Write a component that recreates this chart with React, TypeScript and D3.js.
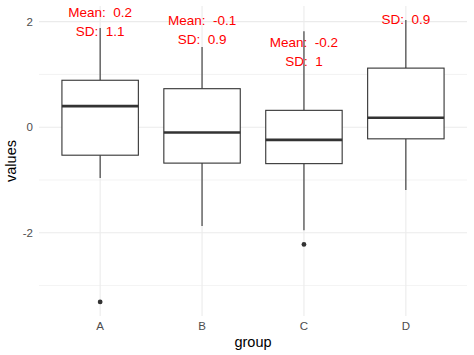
import React from "react";
import * as d3 from "d3";

const groups = ["A", "B", "C", "D"];
const whiskerLow = [-0.96, -1.87, -1.95, -1.19];
const q1 = [-0.53, -0.68, -0.69, -0.22];
const median = [0.4, -0.1, -0.24, 0.18];
const q3 = [0.89, 0.73, 0.32, 1.12];
const whiskerHigh = [1.88, 1.52, 1.82, 2.03];
const outliers: [string, number][] = [["A", -3.31], ["C", -2.22]];
const meanLabels = ["0.2", "-0.1", "-0.2", "0.3"];
const sdLabels = ["1.1", "0.9", "1", "0.9"];
const labelY = [1.81, 1.66, 1.25, 2.04];
const yTicks = [-2, 0, 2];
const yMinor = [-3, -1, 1];

const W = 474, H = 355;
const left = 39, right = 467, top = 6, bottom = 316;
const font = "'Liberation Sans', Arial, sans-serif";

export default function App() {
  const x = d3.scaleBand<string>().domain(groups).range([left, right]).paddingInner(0).paddingOuter(0.1);
  const cx = (g: string) => (x(g) as number) + x.bandwidth() / 2;
  const step = x.step();
  const allVals = [...whiskerLow, ...whiskerHigh, ...outliers.map((o) => o[1])];
  const ext = d3.extent(allVals) as [number, number];
  const pad = (ext[1] - ext[0]) * 0.05;
  const y = d3.scaleLinear().domain([ext[0] - pad, ext[1] + pad]).range([bottom, top]);
  const bw = step * 0.75;
  const grid = "#EBEBEB";
  const dark = "#333333";
  return (
    <svg width={W} height={H} style={{ position: "absolute", left: 0, top: 0, background: "#fff" }} fontFamily={font}>
      <defs>
        <clipPath id="panel">
          <rect x={left} y={top} width={right - left} height={bottom - top} />
        </clipPath>
      </defs>
      {yMinor.map((v) => (
        <line key={"m" + v} x1={left} x2={right} y1={y(v)} y2={y(v)} stroke={grid} strokeWidth={0.6} />
      ))}
      {yTicks.map((v) => (
        <line key={"y" + v} x1={left} x2={right} y1={y(v)} y2={y(v)} stroke={grid} strokeWidth={1.1} />
      ))}
      {groups.map((g) => (
        <line key={"x" + g} x1={cx(g)} x2={cx(g)} y1={top} y2={bottom} stroke={grid} strokeWidth={1.1} />
      ))}
      {groups.map((g, i) => {
        const c = cx(g);
        return (
          <g key={"b" + g}>
            <line x1={c} x2={c} y1={y(whiskerHigh[i])} y2={y(q3[i])} stroke={dark} strokeWidth={1.1} />
            <line x1={c} x2={c} y1={y(q1[i])} y2={y(whiskerLow[i])} stroke={dark} strokeWidth={1.1} />
            <rect x={c - bw / 2} y={y(q3[i])} width={bw} height={y(q1[i]) - y(q3[i])} fill="#fff" stroke={dark} strokeWidth={1.1} />
            <line x1={c - bw / 2} x2={c + bw / 2} y1={y(median[i])} y2={y(median[i])} stroke={dark} strokeWidth={2.6} />
          </g>
        );
      })}
      {outliers.map(([g, v], i) => (
        <circle key={"o" + i} cx={cx(g)} cy={y(v)} r={2.4} fill={dark} />
      ))}
      <g clipPath="url(#panel)">
        {groups.map((g, i) => {
          const c = cx(g);
          const ys = y(labelY[i]);
          return (
            <g key={"t" + g} fill="#FF0000" fontSize={13.5} textAnchor="middle">
              <text x={c} y={ys - 19} dy="0.35em" style={{ whiteSpace: "pre" }}>{`Mean:  ${meanLabels[i]}`}</text>
              <text x={c} y={ys} dy="0.35em" style={{ whiteSpace: "pre" }}>{`SD:  ${sdLabels[i]}`}</text>
            </g>
          );
        })}
      </g>
      {yTicks.map((v) => (
        <text key={"yl" + v} x={33} y={y(v)} dy="0.35em" textAnchor="end" fontSize={11.5} fill="#4D4D4D">{v}</text>
      ))}
      {groups.map((g) => (
        <text key={"xl" + g} x={cx(g)} y={330} textAnchor="middle" fontSize={11.5} fill="#4D4D4D">{g}</text>
      ))}
      <text x={(left + right) / 2} y={347} textAnchor="middle" fontSize={14.5} fill="#000">group</text>
      <text transform={`translate(16,${(top + bottom) / 2}) rotate(-90)`} textAnchor="middle" fontSize={14.5} fill="#000">values</text>
    </svg>
  );
}
